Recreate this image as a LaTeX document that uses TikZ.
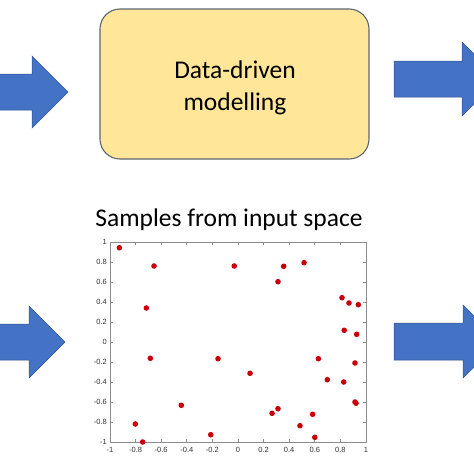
\documentclass[tikz,border=0pt]{standalone}
\usepackage{fontspec}
\usetikzlibrary{calc}
\setmainfont{Carlito}
\newfontfamily\tickfont{Liberation Sans}
\definecolor{arrowblue}{HTML}{4472C4}
\definecolor{arrowedge}{HTML}{2F528F}
\definecolor{boxfill}{HTML}{FFE699}
\definecolor{boxedge}{HTML}{5B6770}
\definecolor{dotred}{HTML}{C8000A}
\definecolor{axisgray}{HTML}{8C8C8C}
\definecolor{ticktext}{HTML}{333333}
\tikzset{
  bigarrow/.style={fill=arrowblue, draw=arrowedge, line width=0.5pt, line join=miter},
  modelbox/.style={fill=boxfill, draw=boxedge, line width=1.1pt, rounded corners=20pt},
  bigtext/.style={font=\fontsize{25.5}{32}\selectfont, text=black, inner sep=0pt, anchor=base},
  ticklab/.style={font=\tickfont\fontsize{7.5}{8}\selectfont, text=ticktext, inner sep=0pt},
  sample/.style={fill=dotred, draw=none},
  axisline/.style={draw=axisgray, line width=0.7pt},
}
\begin{document}
\begin{tikzpicture}[x=1pt,y=-1pt]
\useasboundingbox (0,0) rectangle (474,474);
\clip (0,0) rectangle (474,474);
% arrows
\draw[bigarrow] (-3,74) -- (32,74) -- (32,56) -- (68,92) -- (32,128) -- (32,110) -- (-3,110) -- cycle;
\draw[bigarrow] (394,61) -- (462,61) -- (462,42) -- (499,79) -- (462,116) -- (462,97) -- (394,97) -- cycle;
\draw[bigarrow] (-3,324) -- (29,324) -- (29,306) -- (65,342) -- (29,378) -- (29,360) -- (-3,360) -- cycle;
\draw[bigarrow] (394,323) -- (463,323) -- (463,305) -- (500,341.5) -- (463,378) -- (463,360) -- (394,360) -- cycle;
% box
\draw[modelbox] (100,9) rectangle (369,159);
\node[bigtext] (l1) at (235,78) {Data-driven};
\node[bigtext] (l2) at (235,110) {modelling};
% title
\node[bigtext] (title) at (229,226) {Samples from input space};
% axes
\begin{scope}[shift={(238,342)}, x=128pt, y=100pt]
  \draw[axisline] (-1,-1) rectangle (1,1);
  \foreach \t/\lab in {-1/-1,-0.8/-0.8,-0.6/-0.6,-0.4/-0.4,-0.2/-0.2,0/0,0.2/0.2,0.4/0.4,0.6/0.6,0.8/0.8,1/1} {
    \draw[axisline] (\t,-1) -- ++(0,3pt);
    \draw[axisline] (\t,1) -- ++(0,-3pt);
    \draw[axisline] (-1,\t) -- ++(3pt,0);
    \draw[axisline] (1,\t) -- ++(-3pt,0);
    \node[ticklab, anchor=north] at ($(\t,-1)+(0,-5pt)$) {\lab};
    \node[ticklab, anchor=east] at ($(-1,\t)+(-3pt,0)$) {\lab};
  }
  \foreach \px/\py in {-0.927/0.943, -0.656/0.76, -0.029/0.76, -0.716/0.34, -0.685/-0.163,
     -0.156/-0.167, -0.443/-0.633, -0.802/-0.82, -0.745/-1.0, -0.213/-0.927,
     0.357/0.757, 0.516/0.793, 0.3125/0.603, 0.8125/0.443, 0.867/0.39, 0.94/0.373,
     0.83/0.117, 0.927/0.077, 0.628/-0.167, 0.914/-0.21, 0.094/-0.313, 0.698/-0.377,
     0.826/-0.4, 0.914/-0.6, 0.922/-0.612, 0.3125/-0.667, 0.266/-0.713, 0.583/-0.723,
     0.484/-0.837, 0.60/-0.953} {
    \fill[sample] (\px,\py) circle[radius=2.8pt];
  }
\end{scope}
\end{tikzpicture}
\end{document}
